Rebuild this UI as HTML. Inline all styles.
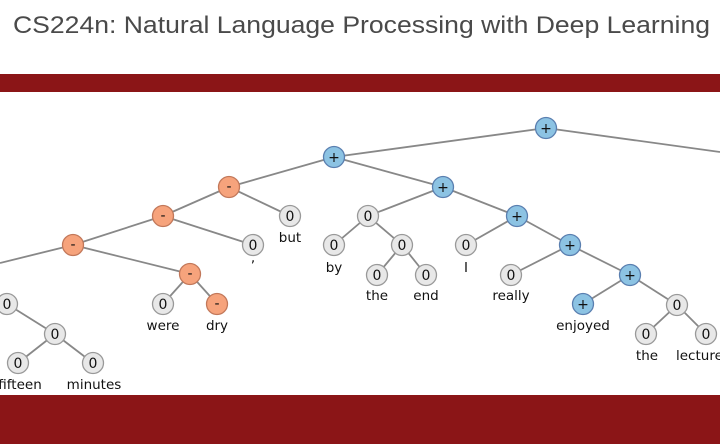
<!DOCTYPE html>
<html><head><meta charset="utf-8"><style>
html,body{margin:0;padding:0;background:#fff;width:720px;height:444px;overflow:hidden}
svg{display:block}
</style></head><body>
<svg width="720" height="444" xmlns="http://www.w3.org/2000/svg" font-family="'DejaVu Sans','Liberation Sans',sans-serif">
<rect width="720" height="444" fill="#fff"/>
<text x="13" y="33" font-family="'Liberation Sans Narrow','Liberation Sans',sans-serif" font-size="24" fill="#4a4a4a" textLength="697" lengthAdjust="spacingAndGlyphs">CS224n: Natural Language Processing with Deep Learning</text>
<rect x="0" y="74" width="720" height="18" fill="#8b1517"/>
<rect x="0" y="395" width="720" height="49" fill="#8b1517"/>
<g stroke="#888" stroke-width="1.8" fill="none">
<line x1="546" y1="128" x2="720" y2="152"/>
<line x1="546" y1="128" x2="334" y2="157"/>
<line x1="334" y1="157" x2="229" y2="187"/>
<line x1="334" y1="157" x2="443" y2="187"/>
<line x1="229" y1="187" x2="163" y2="216"/>
<line x1="229" y1="187" x2="290" y2="216"/>
<line x1="163" y1="216" x2="73" y2="245"/>
<line x1="163" y1="216" x2="253" y2="245"/>
<line x1="73" y1="245" x2="0" y2="263"/>
<line x1="73" y1="245" x2="190" y2="274"/>
<line x1="190" y1="274" x2="163" y2="304"/>
<line x1="190" y1="274" x2="217" y2="304"/>
<line x1="7" y1="304" x2="55" y2="334"/>
<line x1="55" y1="334" x2="18" y2="363"/>
<line x1="55" y1="334" x2="93" y2="363"/>
<line x1="443" y1="187" x2="368" y2="216"/>
<line x1="443" y1="187" x2="517" y2="216"/>
<line x1="368" y1="216" x2="334" y2="245"/>
<line x1="368" y1="216" x2="402" y2="245"/>
<line x1="402" y1="245" x2="377" y2="275"/>
<line x1="402" y1="245" x2="426" y2="275"/>
<line x1="517" y1="216" x2="466" y2="245"/>
<line x1="517" y1="216" x2="570" y2="245"/>
<line x1="570" y1="245" x2="511" y2="275"/>
<line x1="570" y1="245" x2="630" y2="275"/>
<line x1="630" y1="275" x2="583" y2="304"/>
<line x1="630" y1="275" x2="677" y2="305"/>
<line x1="677" y1="305" x2="646" y2="334"/>
<line x1="677" y1="305" x2="706" y2="334"/>
</g>
<g font-size="14" text-anchor="middle" fill="#111">
<g fill="#8cc3e3" stroke="#5a7fb0" stroke-width="1.3">
<circle cx="546" cy="128" r="10.5"/><circle cx="334" cy="157" r="10.5"/><circle cx="443" cy="187" r="10.5"/>
<circle cx="517" cy="216" r="10.5"/><circle cx="570" cy="245" r="10.5"/><circle cx="630" cy="275" r="10.5"/>
<circle cx="583" cy="304" r="10.5"/>
</g>
<g fill="#f6a37c" stroke="#c2785a" stroke-width="1.3">
<circle cx="229" cy="187" r="10.5"/><circle cx="163" cy="216" r="10.5"/><circle cx="73" cy="245" r="10.5"/>
<circle cx="190" cy="274" r="10.5"/><circle cx="217" cy="304" r="10.5"/>
</g>
<g fill="#e8e8e8" stroke="#999" stroke-width="1.3">
<circle cx="290" cy="216" r="10.5"/><circle cx="253" cy="245" r="10.5"/><circle cx="163" cy="304" r="10.5"/>
<circle cx="7" cy="304" r="10.5"/><circle cx="55" cy="334" r="10.5"/><circle cx="18" cy="363" r="10.5"/><circle cx="93" cy="363" r="10.5"/>
<circle cx="368" cy="216" r="10.5"/><circle cx="334" cy="245" r="10.5"/><circle cx="402" cy="245" r="10.5"/>
<circle cx="377" cy="275" r="10.5"/><circle cx="426" cy="275" r="10.5"/><circle cx="466" cy="245" r="10.5"/>
<circle cx="511" cy="275" r="10.5"/><circle cx="677" cy="305" r="10.5"/><circle cx="646" cy="334" r="10.5"/><circle cx="706" cy="334" r="10.5"/>
</g>
<g>
<text x="546" y="133">+</text><text x="334" y="162">+</text><text x="443" y="192">+</text>
<text x="517" y="221">+</text><text x="570" y="250">+</text><text x="630" y="280">+</text><text x="583" y="309">+</text>
<text x="229" y="191">-</text><text x="163" y="220">-</text><text x="73" y="249">-</text><text x="190" y="278">-</text><text x="217" y="308">-</text>
<text x="290" y="221">0</text><text x="253" y="250">0</text><text x="163" y="309">0</text>
<text x="7" y="309">0</text><text x="55" y="339">0</text><text x="18" y="368">0</text><text x="93" y="368">0</text>
<text x="368" y="221">0</text><text x="334" y="250">0</text><text x="402" y="250">0</text>
<text x="377" y="280">0</text><text x="426" y="280">0</text><text x="466" y="250">0</text>
<text x="511" y="280">0</text><text x="677" y="310">0</text><text x="646" y="339">0</text><text x="706" y="339">0</text>
</g>
<g font-size="13.5">
<text x="290" y="242">but</text><text x="253" y="262">,</text>
<text x="163" y="330">were</text><text x="217" y="330">dry</text>
<text x="20" y="389">fifteen</text><text x="94" y="389">minutes</text>
<text x="334" y="272">by</text><text x="377" y="300">the</text><text x="426" y="300">end</text>
<text x="466" y="272">I</text><text x="511" y="300">really</text><text x="583" y="330">enjoyed</text>
<text x="647" y="360">the</text><text text-anchor="start" x="676" y="360">lecture</text>
</g>
</g>
</svg>
</body></html>
